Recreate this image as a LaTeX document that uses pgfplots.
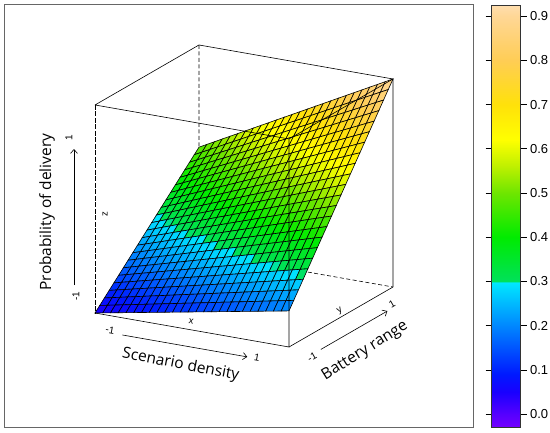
\documentclass[border=0pt]{standalone}
\usepackage{fontspec}
\setmainfont{Open Sans}
\newfontfamily\lsans{Liberation Sans}
\usepackage{pgfplots}
\usepackage{pgfplotstable}
\pgfplotsset{compat=1.18}
\usetikzlibrary{arrows.meta}

\pgfplotsset{colormap={prob}{
 rgb255(0pt)=(115,0,255);
 rgb255(29pt)=(85,0,255);
 rgb255(79pt)=(25,0,255);
 rgb255(119pt)=(0,25,255);
 rgb255(179pt)=(0,85,255);
 rgb255(229pt)=(0,135,255);
 rgb255(279pt)=(0,185,255);
 rgb255(327pt)=(0,232,255);
 rgb255(329pt)=(0,225,90);
 rgb255(429pt)=(0,235,0);
 rgb255(529pt)=(110,230,0);
 rgb255(589pt)=(190,240,0);
 rgb255(649pt)=(255,255,0);
 rgb255(729pt)=(255,225,10);
 rgb255(829pt)=(255,205,85);
 rgb255(929pt)=(255,215,150);
 rgb255(954pt)=(255,222,175)
}}

% grid: x = column index (Scenario density, -1..1), y = row index (Battery range, -1..1), z = probability of delivery
\pgfplotstableread[row sep=\\]{
x y z\\
0 0 0.04\\ 1 0 0.046\\ 2 0 0.052\\ 3 0 0.058\\ 4 0 0.064\\ 5 0 0.07\\ 6 0 0.076\\ 7 0 0.082\\ 8 0 0.088\\ 9 0 0.094\\ 10 0 0.1\\ 11 0 0.106\\ 12 0 0.112\\ 13 0 0.118\\ 14 0 0.124\\ 15 0 0.13\\ 16 0 0.136\\ 17 0 0.142\\ 18 0 0.148\\ 19 0 0.154\\ 20 0 0.16\\ 21 0 0.166\\ 22 0 0.172\\ 23 0 0.178\\ 24 0 0.184\\ 25 0 0.19\\
0 1 0.06\\ 1 1 0.0665\\ 2 1 0.073\\ 3 1 0.0795\\ 4 1 0.086\\ 5 1 0.0925\\ 6 1 0.099\\ 7 1 0.1055\\ 8 1 0.112\\ 9 1 0.1185\\ 10 1 0.125\\ 11 1 0.1315\\ 12 1 0.138\\ 13 1 0.1445\\ 14 1 0.151\\ 15 1 0.1575\\ 16 1 0.164\\ 17 1 0.1705\\ 18 1 0.177\\ 19 1 0.1835\\ 20 1 0.19\\ 21 1 0.1965\\ 22 1 0.203\\ 23 1 0.2095\\ 24 1 0.216\\ 25 1 0.2225\\
0 2 0.08\\ 1 2 0.087\\ 2 2 0.094\\ 3 2 0.101\\ 4 2 0.108\\ 5 2 0.115\\ 6 2 0.122\\ 7 2 0.129\\ 8 2 0.136\\ 9 2 0.143\\ 10 2 0.15\\ 11 2 0.157\\ 12 2 0.164\\ 13 2 0.171\\ 14 2 0.178\\ 15 2 0.185\\ 16 2 0.192\\ 17 2 0.199\\ 18 2 0.206\\ 19 2 0.213\\ 20 2 0.22\\ 21 2 0.227\\ 22 2 0.234\\ 23 2 0.241\\ 24 2 0.248\\ 25 2 0.255\\
0 3 0.1\\ 1 3 0.1075\\ 2 3 0.115\\ 3 3 0.1225\\ 4 3 0.13\\ 5 3 0.1375\\ 6 3 0.145\\ 7 3 0.1525\\ 8 3 0.16\\ 9 3 0.1675\\ 10 3 0.175\\ 11 3 0.1825\\ 12 3 0.19\\ 13 3 0.1975\\ 14 3 0.205\\ 15 3 0.2125\\ 16 3 0.22\\ 17 3 0.2275\\ 18 3 0.235\\ 19 3 0.2425\\ 20 3 0.25\\ 21 3 0.2575\\ 22 3 0.265\\ 23 3 0.2725\\ 24 3 0.28\\ 25 3 0.2875\\
0 4 0.12\\ 1 4 0.128\\ 2 4 0.136\\ 3 4 0.144\\ 4 4 0.152\\ 5 4 0.16\\ 6 4 0.168\\ 7 4 0.176\\ 8 4 0.184\\ 9 4 0.192\\ 10 4 0.2\\ 11 4 0.208\\ 12 4 0.216\\ 13 4 0.224\\ 14 4 0.232\\ 15 4 0.24\\ 16 4 0.248\\ 17 4 0.256\\ 18 4 0.264\\ 19 4 0.272\\ 20 4 0.28\\ 21 4 0.288\\ 22 4 0.296\\ 23 4 0.304\\ 24 4 0.312\\ 25 4 0.32\\
0 5 0.14\\ 1 5 0.1485\\ 2 5 0.157\\ 3 5 0.1655\\ 4 5 0.174\\ 5 5 0.1825\\ 6 5 0.191\\ 7 5 0.1995\\ 8 5 0.208\\ 9 5 0.2165\\ 10 5 0.225\\ 11 5 0.2335\\ 12 5 0.242\\ 13 5 0.2505\\ 14 5 0.259\\ 15 5 0.2675\\ 16 5 0.276\\ 17 5 0.2845\\ 18 5 0.293\\ 19 5 0.3015\\ 20 5 0.31\\ 21 5 0.3185\\ 22 5 0.327\\ 23 5 0.3355\\ 24 5 0.344\\ 25 5 0.3525\\
0 6 0.16\\ 1 6 0.169\\ 2 6 0.178\\ 3 6 0.187\\ 4 6 0.196\\ 5 6 0.205\\ 6 6 0.214\\ 7 6 0.223\\ 8 6 0.232\\ 9 6 0.241\\ 10 6 0.25\\ 11 6 0.259\\ 12 6 0.268\\ 13 6 0.277\\ 14 6 0.286\\ 15 6 0.295\\ 16 6 0.304\\ 17 6 0.313\\ 18 6 0.322\\ 19 6 0.331\\ 20 6 0.34\\ 21 6 0.349\\ 22 6 0.358\\ 23 6 0.367\\ 24 6 0.376\\ 25 6 0.385\\
0 7 0.18\\ 1 7 0.1895\\ 2 7 0.199\\ 3 7 0.2085\\ 4 7 0.218\\ 5 7 0.2275\\ 6 7 0.237\\ 7 7 0.2465\\ 8 7 0.256\\ 9 7 0.2655\\ 10 7 0.275\\ 11 7 0.2845\\ 12 7 0.294\\ 13 7 0.3035\\ 14 7 0.313\\ 15 7 0.3225\\ 16 7 0.332\\ 17 7 0.3415\\ 18 7 0.351\\ 19 7 0.3605\\ 20 7 0.37\\ 21 7 0.3795\\ 22 7 0.389\\ 23 7 0.3985\\ 24 7 0.408\\ 25 7 0.4175\\
0 8 0.2\\ 1 8 0.21\\ 2 8 0.22\\ 3 8 0.23\\ 4 8 0.24\\ 5 8 0.25\\ 6 8 0.26\\ 7 8 0.27\\ 8 8 0.28\\ 9 8 0.29\\ 10 8 0.3\\ 11 8 0.31\\ 12 8 0.32\\ 13 8 0.33\\ 14 8 0.34\\ 15 8 0.35\\ 16 8 0.36\\ 17 8 0.37\\ 18 8 0.38\\ 19 8 0.39\\ 20 8 0.4\\ 21 8 0.41\\ 22 8 0.42\\ 23 8 0.43\\ 24 8 0.44\\ 25 8 0.45\\
0 9 0.22\\ 1 9 0.2305\\ 2 9 0.241\\ 3 9 0.2515\\ 4 9 0.262\\ 5 9 0.2725\\ 6 9 0.283\\ 7 9 0.2935\\ 8 9 0.304\\ 9 9 0.3145\\ 10 9 0.325\\ 11 9 0.3355\\ 12 9 0.346\\ 13 9 0.3565\\ 14 9 0.367\\ 15 9 0.3775\\ 16 9 0.388\\ 17 9 0.3985\\ 18 9 0.409\\ 19 9 0.4195\\ 20 9 0.43\\ 21 9 0.4405\\ 22 9 0.451\\ 23 9 0.4615\\ 24 9 0.472\\ 25 9 0.4825\\
0 10 0.24\\ 1 10 0.251\\ 2 10 0.262\\ 3 10 0.273\\ 4 10 0.284\\ 5 10 0.295\\ 6 10 0.306\\ 7 10 0.317\\ 8 10 0.328\\ 9 10 0.339\\ 10 10 0.35\\ 11 10 0.361\\ 12 10 0.372\\ 13 10 0.383\\ 14 10 0.394\\ 15 10 0.405\\ 16 10 0.416\\ 17 10 0.427\\ 18 10 0.438\\ 19 10 0.449\\ 20 10 0.46\\ 21 10 0.471\\ 22 10 0.482\\ 23 10 0.493\\ 24 10 0.504\\ 25 10 0.515\\
0 11 0.26\\ 1 11 0.2715\\ 2 11 0.283\\ 3 11 0.2945\\ 4 11 0.306\\ 5 11 0.3175\\ 6 11 0.329\\ 7 11 0.3405\\ 8 11 0.352\\ 9 11 0.3635\\ 10 11 0.375\\ 11 11 0.3865\\ 12 11 0.398\\ 13 11 0.4095\\ 14 11 0.421\\ 15 11 0.4325\\ 16 11 0.444\\ 17 11 0.4555\\ 18 11 0.467\\ 19 11 0.4785\\ 20 11 0.49\\ 21 11 0.5015\\ 22 11 0.513\\ 23 11 0.5245\\ 24 11 0.536\\ 25 11 0.5475\\
0 12 0.28\\ 1 12 0.292\\ 2 12 0.304\\ 3 12 0.316\\ 4 12 0.328\\ 5 12 0.34\\ 6 12 0.352\\ 7 12 0.364\\ 8 12 0.376\\ 9 12 0.388\\ 10 12 0.4\\ 11 12 0.412\\ 12 12 0.424\\ 13 12 0.436\\ 14 12 0.448\\ 15 12 0.46\\ 16 12 0.472\\ 17 12 0.484\\ 18 12 0.496\\ 19 12 0.508\\ 20 12 0.52\\ 21 12 0.532\\ 22 12 0.544\\ 23 12 0.556\\ 24 12 0.568\\ 25 12 0.58\\
0 13 0.3\\ 1 13 0.3125\\ 2 13 0.325\\ 3 13 0.3375\\ 4 13 0.35\\ 5 13 0.3625\\ 6 13 0.375\\ 7 13 0.3875\\ 8 13 0.4\\ 9 13 0.4125\\ 10 13 0.425\\ 11 13 0.4375\\ 12 13 0.45\\ 13 13 0.4625\\ 14 13 0.475\\ 15 13 0.4875\\ 16 13 0.5\\ 17 13 0.5125\\ 18 13 0.525\\ 19 13 0.5375\\ 20 13 0.55\\ 21 13 0.5625\\ 22 13 0.575\\ 23 13 0.5875\\ 24 13 0.6\\ 25 13 0.6125\\
0 14 0.32\\ 1 14 0.333\\ 2 14 0.346\\ 3 14 0.359\\ 4 14 0.372\\ 5 14 0.385\\ 6 14 0.398\\ 7 14 0.411\\ 8 14 0.424\\ 9 14 0.437\\ 10 14 0.45\\ 11 14 0.463\\ 12 14 0.476\\ 13 14 0.489\\ 14 14 0.502\\ 15 14 0.515\\ 16 14 0.528\\ 17 14 0.541\\ 18 14 0.554\\ 19 14 0.567\\ 20 14 0.58\\ 21 14 0.593\\ 22 14 0.606\\ 23 14 0.619\\ 24 14 0.632\\ 25 14 0.645\\
0 15 0.34\\ 1 15 0.3535\\ 2 15 0.367\\ 3 15 0.3805\\ 4 15 0.394\\ 5 15 0.4075\\ 6 15 0.421\\ 7 15 0.4345\\ 8 15 0.448\\ 9 15 0.4615\\ 10 15 0.475\\ 11 15 0.4885\\ 12 15 0.502\\ 13 15 0.5155\\ 14 15 0.529\\ 15 15 0.5425\\ 16 15 0.556\\ 17 15 0.5695\\ 18 15 0.583\\ 19 15 0.5965\\ 20 15 0.61\\ 21 15 0.6235\\ 22 15 0.637\\ 23 15 0.6505\\ 24 15 0.664\\ 25 15 0.6775\\
0 16 0.36\\ 1 16 0.374\\ 2 16 0.388\\ 3 16 0.402\\ 4 16 0.416\\ 5 16 0.43\\ 6 16 0.444\\ 7 16 0.458\\ 8 16 0.472\\ 9 16 0.486\\ 10 16 0.5\\ 11 16 0.514\\ 12 16 0.528\\ 13 16 0.542\\ 14 16 0.556\\ 15 16 0.57\\ 16 16 0.584\\ 17 16 0.598\\ 18 16 0.612\\ 19 16 0.626\\ 20 16 0.64\\ 21 16 0.654\\ 22 16 0.668\\ 23 16 0.682\\ 24 16 0.696\\ 25 16 0.71\\
0 17 0.38\\ 1 17 0.3945\\ 2 17 0.409\\ 3 17 0.4235\\ 4 17 0.438\\ 5 17 0.4525\\ 6 17 0.467\\ 7 17 0.4815\\ 8 17 0.496\\ 9 17 0.5105\\ 10 17 0.525\\ 11 17 0.5395\\ 12 17 0.554\\ 13 17 0.5685\\ 14 17 0.583\\ 15 17 0.5975\\ 16 17 0.612\\ 17 17 0.6265\\ 18 17 0.641\\ 19 17 0.6555\\ 20 17 0.67\\ 21 17 0.6845\\ 22 17 0.699\\ 23 17 0.7135\\ 24 17 0.728\\ 25 17 0.7425\\
0 18 0.4\\ 1 18 0.415\\ 2 18 0.43\\ 3 18 0.445\\ 4 18 0.46\\ 5 18 0.475\\ 6 18 0.49\\ 7 18 0.505\\ 8 18 0.52\\ 9 18 0.535\\ 10 18 0.55\\ 11 18 0.565\\ 12 18 0.58\\ 13 18 0.595\\ 14 18 0.61\\ 15 18 0.625\\ 16 18 0.64\\ 17 18 0.655\\ 18 18 0.67\\ 19 18 0.685\\ 20 18 0.7\\ 21 18 0.715\\ 22 18 0.73\\ 23 18 0.745\\ 24 18 0.76\\ 25 18 0.775\\
0 19 0.42\\ 1 19 0.4355\\ 2 19 0.451\\ 3 19 0.4665\\ 4 19 0.482\\ 5 19 0.4975\\ 6 19 0.513\\ 7 19 0.5285\\ 8 19 0.544\\ 9 19 0.5595\\ 10 19 0.575\\ 11 19 0.5905\\ 12 19 0.606\\ 13 19 0.6215\\ 14 19 0.637\\ 15 19 0.6525\\ 16 19 0.668\\ 17 19 0.6835\\ 18 19 0.699\\ 19 19 0.7145\\ 20 19 0.73\\ 21 19 0.7455\\ 22 19 0.761\\ 23 19 0.7765\\ 24 19 0.792\\ 25 19 0.8075\\
0 20 0.44\\ 1 20 0.456\\ 2 20 0.472\\ 3 20 0.488\\ 4 20 0.504\\ 5 20 0.52\\ 6 20 0.536\\ 7 20 0.552\\ 8 20 0.568\\ 9 20 0.584\\ 10 20 0.6\\ 11 20 0.616\\ 12 20 0.632\\ 13 20 0.648\\ 14 20 0.664\\ 15 20 0.68\\ 16 20 0.696\\ 17 20 0.712\\ 18 20 0.728\\ 19 20 0.744\\ 20 20 0.76\\ 21 20 0.776\\ 22 20 0.792\\ 23 20 0.808\\ 24 20 0.824\\ 25 20 0.84\\
0 21 0.46\\ 1 21 0.4765\\ 2 21 0.493\\ 3 21 0.5095\\ 4 21 0.526\\ 5 21 0.5425\\ 6 21 0.559\\ 7 21 0.5755\\ 8 21 0.592\\ 9 21 0.6085\\ 10 21 0.625\\ 11 21 0.6415\\ 12 21 0.658\\ 13 21 0.6745\\ 14 21 0.691\\ 15 21 0.7075\\ 16 21 0.724\\ 17 21 0.7405\\ 18 21 0.757\\ 19 21 0.7735\\ 20 21 0.79\\ 21 21 0.8065\\ 22 21 0.823\\ 23 21 0.8395\\ 24 21 0.856\\ 25 21 0.8725\\
0 22 0.48\\ 1 22 0.497\\ 2 22 0.514\\ 3 22 0.531\\ 4 22 0.548\\ 5 22 0.565\\ 6 22 0.582\\ 7 22 0.599\\ 8 22 0.616\\ 9 22 0.633\\ 10 22 0.65\\ 11 22 0.667\\ 12 22 0.684\\ 13 22 0.701\\ 14 22 0.718\\ 15 22 0.735\\ 16 22 0.752\\ 17 22 0.769\\ 18 22 0.786\\ 19 22 0.803\\ 20 22 0.82\\ 21 22 0.837\\ 22 22 0.854\\ 23 22 0.871\\ 24 22 0.888\\ 25 22 0.905\\
}\surfdata

\begin{document}
\begin{tikzpicture}
\begin{axis}[hide axis, clip=false,
  x={(7.76pt,-1.36pt)}, y={(4.727pt,2.727pt)}, z={(0pt,240.5pt)},
  xmin=0, xmax=25, ymin=0, ymax=22, zmin=0.04, zmax=0.905,
  colormap name=prob, point meta min=-0.029, point meta max=0.925]
% hidden (back) box edges, dashed
\addplot3[black, line width=0.6pt, dash pattern=on 4pt off 2.5pt] coordinates {(0,22,0.905) (0,22,0.04) (25,22,0.04)};
\addplot3[black, line width=0.6pt, dash pattern=on 4pt off 2.5pt] coordinates {(0,0,0.04) (0,22,0.04)};
% response surface
\addplot3[surf, shader=faceted, faceted color=black, line width=0.6pt, mesh/cols=26] table[x=x, y=y, z=z] {\surfdata};
% visible box edges
\addplot3[black, line width=0.6pt] coordinates {(0,0,0.905) (0,22,0.905) (25,22,0.905) (25,0,0.905) (0,0,0.905)};
\addplot3[black, line width=0.6pt] coordinates {(25,0,0.905) (25,0,0.04) (0,0,0.04)};
\addplot3[black, line width=0.6pt] coordinates {(25,0,0.04) (25,22,0.04) (25,22,0.905)};
\addplot3[black, line width=0.6pt, dash pattern=on 5pt off 1.5pt] coordinates {(0,0,0.905) (0,0,0.04)};
\coordinate (E) at (axis cs:0,0,0.04);
\end{axis}
\path (E) ++(388pt,-114pt) coordinate (CB);

\pgfplotscolorbardrawstandalone[colormap name=prob, point meta min=-0.029, point meta max=0.925,
  colorbar/width=29pt,
  colorbar style={at={(CB)}, anchor=south west,
    width=29pt, height=422pt, scale only axis,
    ytick={0,0.1,0.2,0.3,0.4,0.5,0.6,0.7,0.8,0.9},
    yticklabel style={font=\lsans\fontsize{13}{13}\selectfont,
      /pgf/number format/fixed, /pgf/number format/fixed zerofill,
      /pgf/number format/precision=1, /pgf/number format/assume math mode=true},
    tick align=outside, major tick length=6pt,
    tick style={black, line width=0.7pt},
    axis line style={black!80, line width=0.6pt}}]

\begin{scope}[shift={(E)}]
  % panel frame
  \draw[black!60, line width=1pt] (-90pt,308pt) rectangle (378pt,-114pt);
  % z axis annotation
  \draw[line width=0.6pt, -{Straight Barb[length=4pt,width=7pt]}] (-21pt,28pt) -- (-21pt,164pt);
  \node[rotate=90, font=\lsans\fontsize{10}{10}\selectfont] at (-19pt,17pt) {-1};
  \node[rotate=90, font=\lsans\fontsize{10}{10}\selectfont] at (-26pt,175pt) {1};
  \node[rotate=90, font=\lsans\fontsize{9.5}{10}\selectfont] at (10pt,99pt) {z};
  \node[rotate=90, font=\fontsize{15.5}{16}\selectfont] at (-48pt,101pt) {Probability of delivery};
  % x axis annotation
  \draw[line width=0.6pt, -{Straight Barb[length=4pt,width=7pt]}] (27.5pt,-22pt) -- (152.3pt,-43.9pt);
  \node[rotate=-10, font=\lsans\fontsize{10}{10}\selectfont] at (15pt,-17pt) {-1};
  \node[rotate=-10, font=\lsans\fontsize{10}{10}\selectfont] at (162pt,-45pt) {1};
  \node[rotate=-10, font=\lsans\fontsize{9.5}{10}\selectfont] at (96.2pt,-8pt) {x};
  \node[rotate=-11, font=\fontsize{15.5}{16}\selectfont] at (85.7pt,-52pt) {Scenario density};
  % y axis annotation
  \draw[line width=0.6pt, -{Straight Barb[length=4pt,width=7pt]}] (225.9pt,-36.4pt) -- (292.4pt,2pt);
  \node[rotate=30, font=\lsans\fontsize{10}{10}\selectfont] at (217pt,-44pt) {-1};
  \node[rotate=30, font=\lsans\fontsize{10}{10}\selectfont] at (297pt,9pt) {1};
  \node[rotate=30, font=\lsans\fontsize{9.5}{10}\selectfont] at (245pt,2pt) {y};
  \node[rotate=32, font=\fontsize{15.5}{16}\selectfont] at (270pt,-38pt) {Battery range};
\end{scope}
\pgfresetboundingbox
\path[shift={(E)}] (-95pt,313pt) rectangle (455pt,-119pt);
\end{tikzpicture}
\end{document}
